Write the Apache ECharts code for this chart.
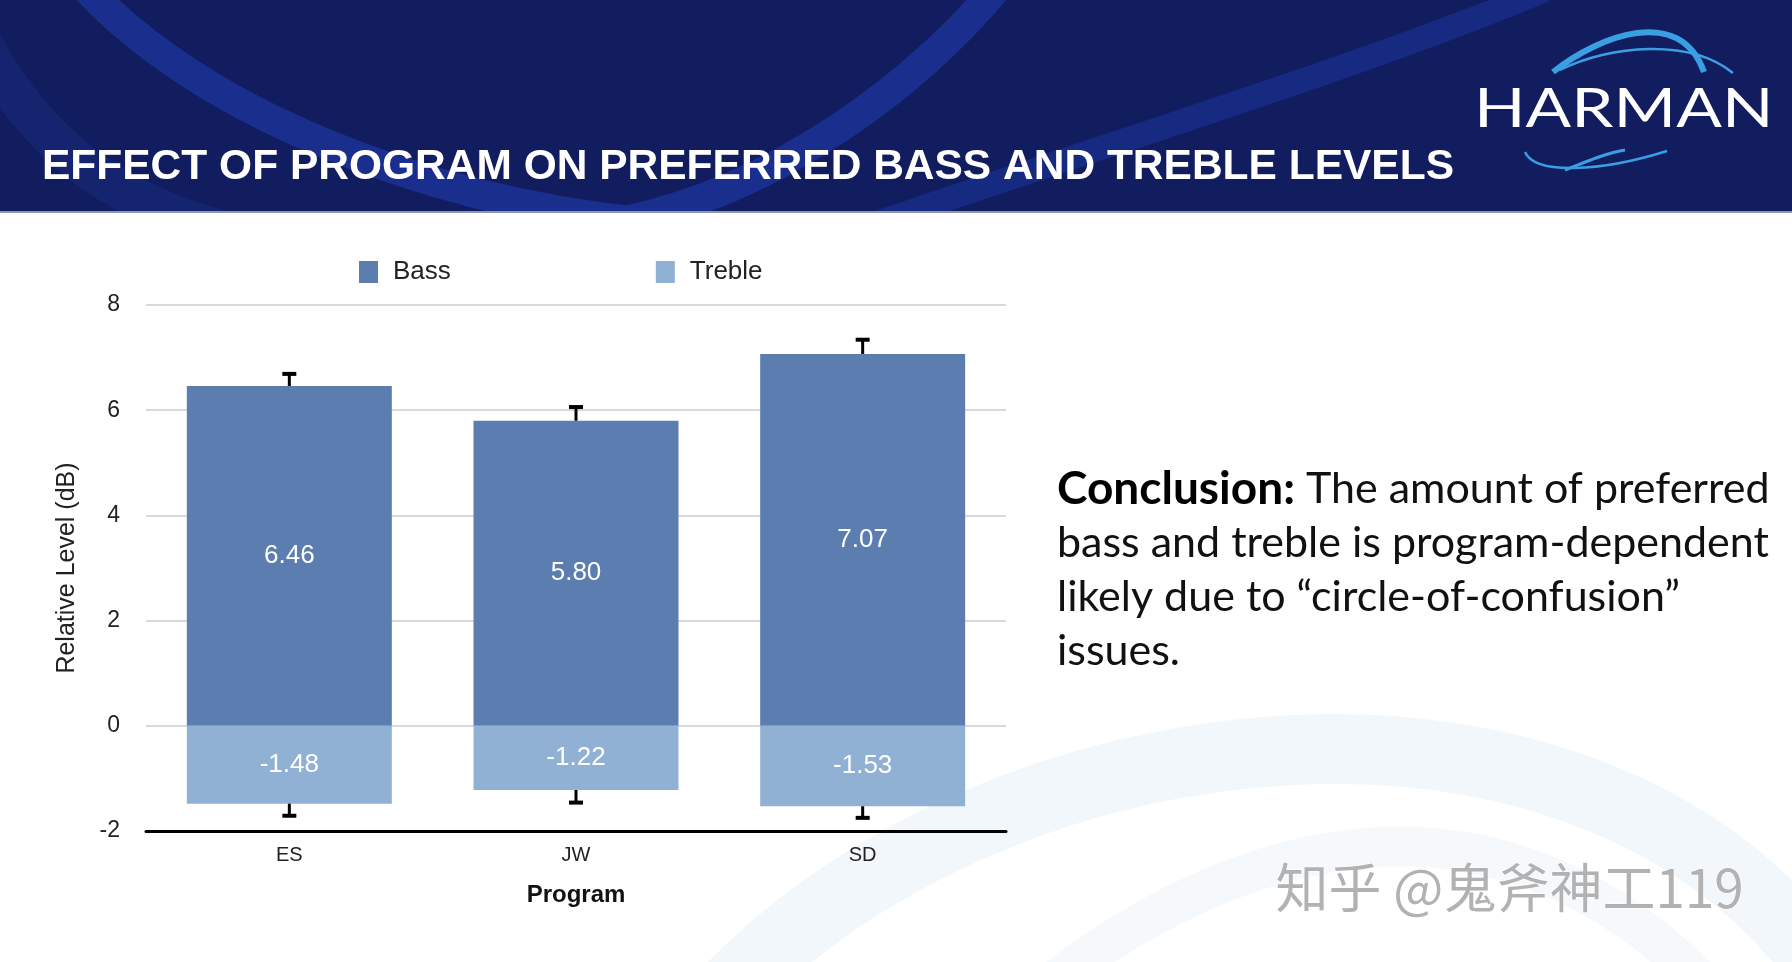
<!DOCTYPE html>
<html>
<head>
<meta charset="utf-8">
<script src="https://cdn.jsdelivr.net/npm/echarts@6/dist/echarts.min.js"></script>
<style>
  html, body { margin: 0; padding: 0; background: #ffffff; }
  #main { width: 1792px; height: 962px; }
</style>
</head>
<body>
<div id="main"></div>
<script>
// data
var programs = ['ES', 'JW', 'SD'];
var bassValues = [6.46, 5.80, 7.07];
var trebleValues = [-1.48, -1.22, -1.53];
var bassErrors = [0.23, 0.26, 0.27];
var trebleErrors = [0.23, 0.24, 0.22];
var yTicks = [-2, 0, 2, 4, 6, 8];

var bassColor = '#5b7db0';
var trebleColor = '#91b1d4';
var arcBlue = '#1a2e8e';
var logoBlue = '#3a9fe2';

// one-sided T error bars, drawn through the axis coords
function errorBars(name, vals, errs, dir) {
    return {
        type: 'custom',
        name: name,
        z: 5,
        encode: { x: 0, y: 1 },
        silent: true,
        renderItem: function (params, api) {
            var i = api.value(0);
            var v = api.value(1);
            var e = api.value(2);
            var p0 = api.coord([i, v]);
            var p1 = api.coord([i, v + dir * e]);
            return {
                type: 'group',
                children: [
                    { type: 'line', shape: { x1: p0[0], y1: p0[1], x2: p1[0], y2: p1[1] },
                      style: { stroke: '#000', lineWidth: 3 } },
                    { type: 'line', shape: { x1: p1[0] - 7, y1: p1[1], x2: p1[0] + 7, y2: p1[1] },
                      style: { stroke: '#000', lineWidth: 4 } }
                ]
            };
        },
        data: vals.map(function (v, i) { return [i, v, errs[i]]; })
    };
}

function curve(z, pts, color, width) {
    return { type: 'bezierCurve', z: z, silent: true,
             shape: { x1: pts[0], y1: pts[1], cpx1: pts[2], cpy1: pts[3],
                      cpx2: pts[4], cpy2: pts[5], x2: pts[6], y2: pts[7] },
             style: { stroke: color, lineWidth: width, fill: null } };
}

var myChart = echarts.init(document.getElementById('main'));
myChart.setOption({
    backgroundColor: '#ffffff',
    animation: false,
    textStyle: { fontFamily: 'Liberation Sans, Arial, sans-serif' },
    legend: {
        data: ['Bass', 'Treble'],
        left: 354,
        top: 254,
        itemWidth: 19,
        itemHeight: 22,
        itemGap: 205,
        icon: 'rect',
        textStyle: { fontSize: 26, color: '#222', padding: [0, 0, 0, 10] }
    },
    grid: { left: 146, right: 786, top: 305, bottom: 131 },
    xAxis: {
        type: 'category',
        data: programs,
        name: 'Program',
        nameLocation: 'middle',
        nameGap: 52,
        nameTextStyle: { fontSize: 24, fontWeight: 'bold', color: '#111' },
        axisLine: { onZero: false, lineStyle: { color: '#000', width: 3 } },
        axisTick: { show: false },
        axisLabel: { fontSize: 20, color: '#222', margin: 14 }
    },
    yAxis: {
        type: 'value',
        min: yTicks[0],
        max: yTicks[yTicks.length - 1],
        interval: 2,
        name: 'Relative Level (dB)',
        nameLocation: 'middle',
        nameGap: 66,
        nameTextStyle: { fontSize: 25, color: '#222' },
        axisLine: { show: false },
        axisTick: { show: false },
        axisLabel: { fontSize: 23, color: '#222', margin: 26 },
        splitLine: { lineStyle: { color: '#d9d9d9', width: 2 } }
    },
    series: [
        {
            name: 'Bass',
            type: 'bar',
            data: bassValues,
            barWidth: '71.5%',
            barGap: '-100%',
            itemStyle: { color: bassColor },
            label: { show: true, position: 'inside', color: '#fff', fontSize: 26,
                     formatter: function (p) { return p.value.toFixed(2); } }
        },
        {
            name: 'Treble',
            type: 'bar',
            data: trebleValues,
            barWidth: '71.5%',
            itemStyle: { color: trebleColor },
            label: { show: true, position: 'inside', color: '#fff', fontSize: 26,
                     formatter: function (p) { return p.value.toFixed(2); } }
        },
        errorBars('Bass err', bassValues, bassErrors, 1),
        errorBars('Treble err', trebleValues, trebleErrors, -1)
    ],
    graphic: [
        // header band and its arcs
        { type: 'rect', z: -10, silent: true,
          shape: { x: 0, y: 0, width: 1792, height: 212 },
          style: { fill: '#121d5f' } },
        curve(-9, [-20, 40, 40, 150, 120, 210, 260, 240], '#15246f', 40),
        curve(-9, [88, -10, 200, 110, 420, 200, 640, 222], arcBlue, 30),
        curve(-9, [995, -10, 920, 80, 780, 190, 620, 222], arcBlue, 30),
        curve(-9, [1545, -10, 1380, 60, 1120, 140, 880, 222], '#172a82', 24),
        // white page below the header (hides arc overshoot)
        { type: 'rect', z: -8, silent: true,
          shape: { x: 0, y: 212, width: 1792, height: 760 },
          style: { fill: '#ffffff' } },
        { type: 'rect', z: -6, silent: true,
          shape: { x: 0, y: 211, width: 1792, height: 2 },
          style: { fill: '#8f96b3' } },
        // faint swoosh on the white part
        curve(-7, [720, 1000, 1000, 700, 1600, 640, 1830, 980], '#f2f7fb', 70),
        curve(-7, [1030, 1000, 1250, 820, 1500, 780, 1700, 980], '#f6f9fc', 40),
        { type: 'text', z: 10, x: 42, y: 167, silent: true,
          style: { text: 'EFFECT OF PROGRAM ON PREFERRED BASS AND TREBLE LEVELS',
                   fill: '#ffffff', fontSize: 42.5, fontWeight: 'bold', verticalAlign: 'middle',
                   fontFamily: 'Liberation Sans, Arial, sans-serif' } },
        // logo
        { type: 'text', z: 10, x: 1474, y: 110, scaleX: 1.25, silent: true,
          style: { text: 'HARMAN', fill: '#ffffff', fontSize: 54, verticalAlign: 'middle',
                   fontFamily: 'Lato, sans-serif' } },
        curve(10, [1553, 72, 1600, 35, 1680, 5, 1704, 72], logoBlue, 6),
        curve(10, [1560, 70, 1610, 45, 1690, 38, 1733, 73], logoBlue, 2.5),
        curve(10, [1525, 152, 1535, 175, 1600, 172, 1667, 151], logoBlue, 2.5),
        curve(10, [1565, 170, 1590, 160, 1610, 152, 1625, 150], logoBlue, 3),
        // conclusion text
        { type: 'text', z: 10, left: 1057, top: 462, silent: true,
          style: {
              text: '{b|Conclusion:} The amount of preferred\nbass and treble is program-dependent\nlikely due to \u201ccircle-of-confusion\u201d\nissues.',
              fill: '#111', fontSize: 43, lineHeight: 54,
              fontFamily: 'Lato, sans-serif',
              rich: { b: { fontWeight: 'bold', fontSize: 46, lineHeight: 54, fontFamily: 'Lato, sans-serif', fill: '#000' } }
          } },
        // watermark
        { type: 'text', z: 10, left: 1275, top: 861, silent: true,
          style: { text: '知乎 @鬼斧神工119', fill: '#b2b2b2', fontSize: 53,
                   fontFamily: 'Noto Sans CJK SC, sans-serif',
                   stroke: '#ffffff', lineWidth: 1 } }
    ]
});
</script>
</body>
</html>
